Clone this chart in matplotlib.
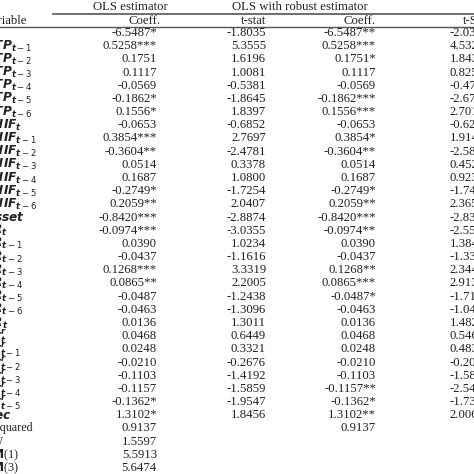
import matplotlib.pyplot as plt

plt.rcParams['font.family'] = ['Liberation Serif', 'DejaVu Serif']
plt.rcParams['mathtext.fontset'] = 'custom'
plt.rcParams['mathtext.it'] = 'DejaVu Sans:italic:bold'
plt.rcParams['mathtext.rm'] = 'DejaVu Sans'
plt.rcParams['mathtext.bf'] = 'DejaVu Sans:bold'

variables = [r'$C$', r'$GTP_{t-1}$', r'$GTP_{t-2}$', r'$GTP_{t-3}$',
             r'$GTP_{t-4}$', r'$GTP_{t-5}$', r'$GTP_{t-6}$',
             r'$CHIF_{t}$', r'$CHIF_{t-1}$', r'$CHIF_{t-2}$', r'$CHIF_{t-3}$',
             r'$CHIF_{t-4}$', r'$CHIF_{t-5}$', r'$CHIF_{t-6}$',
             r'$Asset$', r'$\Delta R_{t}$', r'$\Delta R_{t-1}$', r'$\Delta R_{t-2}$',
             r'$\Delta R_{t-3}$', r'$\Delta R_{t-4}$', r'$\Delta R_{t-5}$', r'$\Delta R_{t-6}$',
             r'$SR_{t}$', r'$\Delta\tau^{r}_{t}$', r'$\Delta\tau^{r}_{t-1}$', r'$\Delta\tau^{r}_{t-2}$',
             r'$\Delta\tau^{r}_{t-3}$', r'$\Delta\tau^{r}_{t-4}$', r'$\Delta\tau^{r}_{t-5}$', r'$Dec$',
             'R-squared', 'DW', r'$\mathbf{LM}$(1)', r'$\mathbf{LM}$(3)']

ols_coef = ['-6.5487*', '0.5258***', '0.1751', '0.1117', '-0.0569', '-0.1862*', '0.1556*',
            '-0.0653', '0.3854***', '-0.3604**', '0.0514', '0.1687', '-0.2749*', '0.2059**',
            '-0.8420***', '-0.0974***', '0.0390', '-0.0437', '0.1268***', '0.0865**', '-0.0487',
            '-0.0463', '0.0136', '0.0468', '0.0248', '-0.0210', '-0.1103', '-0.1157', '-0.1362*',
            '1.3102*', '0.9137', '1.5597', '5.5913', '5.6474']
ols_t = ['-1.8035', '5.3555', '1.6196', '1.0081', '-0.5381', '-1.8645', '1.8397', '-0.6852',
         '2.7697', '-2.4781', '0.3378', '1.0800', '-1.7254', '2.0407', '-2.8874', '-3.0355',
         '1.0234', '-1.1616', '3.3319', '2.2005', '-1.2438', '-1.3096', '1.3011', '0.6449',
         '0.3321', '-0.2676', '-1.4192', '-1.5859', '-1.9547', '1.8456', '', '', '', '']
rob_coef = ['-6.5487**', '0.5258***', '0.1751*', '0.1117', '-0.0569', '-0.1862***', '0.1556***',
            '-0.0653', '0.3854*', '-0.3604**', '0.0514', '0.1687', '-0.2749*', '0.2059**',
            '-0.8420***', '-0.0974**', '0.0390', '-0.0437', '0.1268**', '0.0865***', '-0.0487*',
            '-0.0463', '0.0136', '0.0468', '0.0248', '-0.0210', '-0.1103', '-0.1157**', '-0.1362*',
            '1.3102**', '0.9137', '', '', '']
rob_t = ['-2.0312', '4.5321', '1.8432', '0.8254', '-0.4712', '-2.6743', '2.7018', '-0.6231',
         '1.9145', '-2.5817', '0.4523', '0.9234', '-1.7426', '2.3651', '-2.8314', '-2.5532',
         '1.3845', '-1.3327', '2.3441', '2.9136', '-1.7124', '-1.0452', '1.4823', '0.5461',
         '0.4835', '-0.2031', '-1.5842', '-2.5413', '-1.7325', '2.0067', '', '', '', '']

fig = plt.figure(figsize=(4.74, 4.74), dpi=100)
ax = fig.add_axes([0, 0, 1, 1])
ax.set_xlim(0, 474)
ax.set_ylim(474, 0)
ax.axis('off')

fs = 9.2
col = '#222222'
ax.text(130, 6.5, 'OLS estimator', ha='center', va='center', fontsize=fs, color=col)
ax.text(300, 6.5, 'OLS with robust estimator', ha='center', va='center', fontsize=fs, color=col)
ax.plot([53, 474], [13.5, 13.5], color='#555555', lw=1.2)
ax.text(-15, 20.5, 'Variable', ha='left', va='center', fontsize=fs, color=col)
ax.text(145, 20.5, 'Coeff.', ha='center', va='center', fontsize=fs, color=col)
ax.text(254, 20.5, 't-stat', ha='center', va='center', fontsize=fs, color=col)
ax.text(360, 20.5, 'Coeff.', ha='center', va='center', fontsize=fs, color=col)
ax.text(463, 20.5, 't-Stat', ha='left', va='center', fontsize=fs, color=col)
ax.plot([0, 474], [26.5, 26.5], color='#555555', lw=1.0)

step = (468 - 33) / 33
for i, v in enumerate(variables):
    y = 33 + i * step
    ax.text(-16, y, v, ha='left', va='center', fontsize=fs - 0.5, color=col)
    ax.text(157, y, ols_coef[i], ha='right', va='center', fontsize=fs, color=col)
    ax.text(266, y, ols_t[i], ha='right', va='center', fontsize=fs, color=col)
    ax.text(376, y, rob_coef[i], ha='right', va='center', fontsize=fs, color=col)
    ax.text(450, y, rob_t[i], ha='left', va='center', fontsize=fs, color=col)

fig.savefig('out.png', dpi=100)
